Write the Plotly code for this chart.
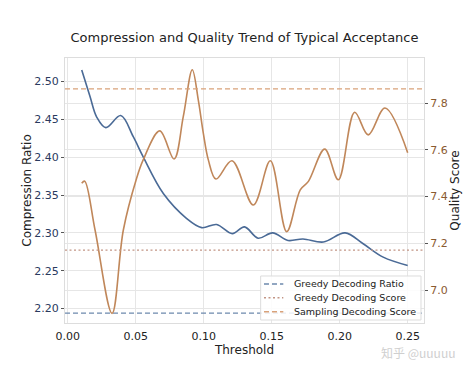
import plotly.graph_objects as go

# ---- data ----
ratio_x = [0.0103, 0.0164, 0.0213, 0.028, 0.039, 0.0482, 0.0556, 0.0703, 0.0875,
           0.0985, 0.1095, 0.121, 0.130, 0.140, 0.1507, 0.162, 0.173, 0.188,
           0.204, 0.217, 0.232, 0.250]
ratio_y = [2.515, 2.480, 2.453, 2.439, 2.455, 2.427, 2.400, 2.352, 2.319,
           2.307, 2.311, 2.299, 2.308, 2.293, 2.300, 2.290, 2.292, 2.288,
           2.300, 2.286, 2.268, 2.257]

score_x = [0.0103, 0.0125, 0.0201, 0.0326, 0.0409, 0.0505, 0.0555, 0.0677, 0.0782,
           0.085, 0.0916, 0.096, 0.0997, 0.1034, 0.109, 0.1208, 0.1365, 0.149,
           0.161, 0.171, 0.177, 0.189, 0.199, 0.211, 0.221, 0.2333, 0.250]
score_y = [7.457, 7.466, 7.257, 6.900, 7.257, 7.475, 7.557, 7.681, 7.561,
           7.743, 7.943, 7.814, 7.672, 7.557, 7.475, 7.553, 7.364, 7.553,
           7.250, 7.429, 7.465, 7.603, 7.472, 7.761, 7.664, 7.779, 7.588]

greedy_ratio = 2.194
greedy_score = 7.171
sampling_score = 7.861

legend_labels = ["Greedy Decoding Ratio", "Greedy Decoding Score", "Sampling Decoding Score"]

x_ticks = [0.00, 0.05, 0.10, 0.15, 0.20, 0.25]
left_ticks = [2.20, 2.25, 2.30, 2.35, 2.40, 2.45, 2.50]
right_ticks = [7.0, 7.2, 7.4, 7.6, 7.8]

x_range = [-0.002, 0.262]

BLUE = "#4a6a96"
ORANGE = "#c0875a"
REF_STYLES = [("#6d89ad", "5px,3px"), ("#c29585", "2px,2.5px"), ("#d9a27a", "5px,3px")]
FONT = "DejaVu Sans"

fig = go.Figure()

fig.add_trace(go.Scatter(x=ratio_x, y=ratio_y, mode="lines", yaxis="y",
                         line=dict(color=BLUE, width=1.6, shape="spline", smoothing=1.0),
                         showlegend=False))
fig.add_trace(go.Scatter(x=score_x, y=score_y, mode="lines", yaxis="y2",
                         line=dict(color=ORANGE, width=1.6, shape="spline", smoothing=1.0),
                         showlegend=False))

ref_values = [(greedy_ratio, "y"), (greedy_score, "y2"), (sampling_score, "y2")]
for (val, ax), (col, dash), name in zip(ref_values, REF_STYLES, legend_labels):
    fig.add_trace(go.Scatter(x=x_range, y=[val] * 2, mode="lines", yaxis=ax, name=name,
                             line=dict(color=col, width=1.4, dash=dash), showlegend=False))

# ---- manual legend (matplotlib-like compact box) ----
shapes = [dict(type="rect", xref="paper", yref="paper", x0=0.545, x1=0.9916,
               y0=0.0113, y1=0.1774, line=dict(color="#dddddd", width=1),
               fillcolor="rgba(255,255,255,0.85)", layer="above")]
annotations = []
row_y = [0.1472, 0.0955, 0.0426]
for yy, (col, dash), name in zip(row_y, REF_STYLES, legend_labels):
    shapes.append(dict(type="line", xref="paper", yref="paper", x0=0.5543, x1=0.6081,
                       y0=yy, y1=yy, line=dict(color=col, width=1.4, dash=dash),
                       layer="above"))
    annotations.append(dict(text=name, xref="paper", yref="paper", x=0.6315, y=yy,
                            xanchor="left", yanchor="middle", showarrow=False,
                            font=dict(size=9.5, color="#222222")))

annotations.append(dict(text="知乎 @uuuuu", xref="paper", yref="paper",
                        x=0.982, y=-0.11, xanchor="center", yanchor="middle",
                        showarrow=False,
                        font=dict(family="Noto Sans CJK SC", size=12, color="#cfcfcf")))

GRID = "#e6e6e6"
fig.update_layout(
    width=474, height=366, autosize=False,
    margin=dict(l=65, r=50, t=58, b=43, autoexpand=False),
    paper_bgcolor="white", plot_bgcolor="white",
    font=dict(family=FONT, size=11, color="#333333"),
    title=dict(text="Compression and Quality Trend of Typical Acceptance",
               x=244.5 / 474, xanchor="center", y=1 - 37 / 366, yanchor="middle",
               xref="container", yref="container", font=dict(size=13, color="#222222")),
    xaxis=dict(range=x_range, tickvals=x_ticks, tickformat=".2f", automargin=False,
               showgrid=True, gridcolor=GRID, gridwidth=1,
               showline=True, linecolor="#dddddd", mirror=True,
               zeroline=False, ticks="outside", ticklen=3, tickcolor="rgba(0,0,0,0)",
               tickfont=dict(size=11, color="#222222"),
               title=dict(text="Threshold", standoff=0, font=dict(size=12, color="#222222"))),
    yaxis=dict(range=[2.181, 2.531], tickvals=left_ticks, tickformat=".2f", automargin=False,
               showgrid=True, gridcolor=GRID, gridwidth=1,
               showline=True, linecolor="#dddddd", zeroline=False,
               ticks="outside", ticklen=3, tickcolor="#555555",
               tickfont=dict(size=11, color="#2a3a5e"),
               title=dict(text="Compression Ratio", standoff=0,
                          font=dict(size=12, color="#222222"))),
    yaxis2=dict(range=[6.859, 7.993], tickvals=right_ticks, tickformat=".1f", automargin=False,
                overlaying="y", side="right",
                showgrid=True, gridcolor=GRID, gridwidth=1,
                showline=True, linecolor="#dddddd", zeroline=False,
                ticks="outside", ticklen=3, tickcolor="#555555",
                tickfont=dict(size=11, color="#8a5a30"),
                title=dict(text="Quality Score", standoff=0,
                           font=dict(size=12, color="#222222"))),
    showlegend=False,
    shapes=shapes,
    annotations=annotations,
)

fig.write_html("out.html", config={"displayModeBar": False},
               post_script="document.body.style.margin='0';document.body.style.padding='0';")
